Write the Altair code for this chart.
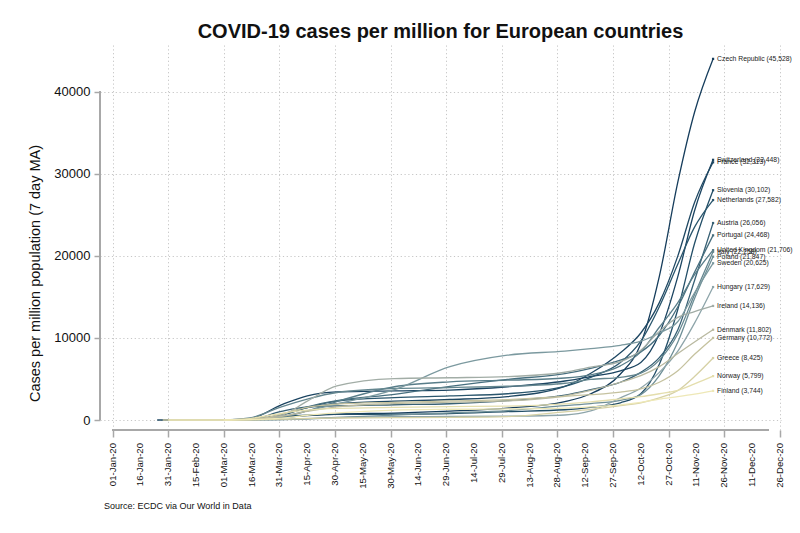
import json
import pandas as pd
import altair as alt

# ---- data -----------------------------------------------------------------
countries = [
    "Czech Republic", "Switzerland", "France", "Slovenia", "Netherlands",
    "Austria", "Portugal", "United Kingdom", "Italy", "Poland", "Sweden",
    "Hungary", "Ireland", "Denmark", "Germany", "Greece", "Norway", "Finland",
]

# latest reported cumulative cases per million (shown in the end labels)
latest_totals = [
    45528, 32448, 32313, 30102, 27582, 26056, 24468, 21706, 22258, 21847,
    20625, 17629, 14136, 11802, 10772, 8425, 5799, 3744,
]

# first reported case for countries with cases before March
first_case = {
    "France": "2020-01-25",
    "Germany": "2020-01-28",
    "Italy": "2020-01-31",
    "United Kingdom": "2020-01-31",
    "Sweden": "2020-02-01",
    "Finland": "2020-01-31",
}

dates = [
    "2020-03-01", "2020-03-15", "2020-04-01", "2020-04-15", "2020-05-01",
    "2020-06-01", "2020-07-01", "2020-08-01", "2020-09-01", "2020-09-15",
    "2020-10-01", "2020-10-12", "2020-10-22", "2020-11-01", "2020-11-10",
    "2020-11-20",
]

# cumulative cases per million, 7 day moving average
czech_republic = [0, 15, 290, 540, 700, 850, 1080, 1450, 2250, 3200, 5600, 9300, 17500, 29000, 37500, 44000]
switzerland = [2, 170, 1850, 2950, 3420, 3550, 3650, 4050, 4750, 5300, 6000, 7000, 10500, 17500, 25500, 31700]
france = [2, 55, 650, 1500, 2000, 2300, 2500, 2850, 4100, 5700, 8200, 10600, 14300, 20000, 26500, 31400]
slovenia = [0, 70, 410, 600, 680, 710, 780, 1030, 1250, 1550, 2100, 3200, 6800, 13500, 21500, 28000]
netherlands = [0, 40, 600, 1500, 2300, 2720, 2930, 3200, 4100, 5200, 7000, 9600, 13800, 19000, 23500, 26800]
austria = [0, 60, 1050, 1600, 1730, 1860, 1980, 2350, 3020, 3700, 4600, 5800, 7600, 11000, 17000, 24000]
portugal = [0, 10, 650, 1600, 2350, 3130, 4100, 4950, 5650, 6300, 7300, 8300, 10300, 13800, 18000, 22500]
united_kingdom = [0, 12, 300, 1100, 2250, 4050, 4650, 4850, 5120, 5500, 6600, 8300, 11300, 14300, 17700, 20700]
italy = [15, 250, 1600, 2550, 3350, 3840, 3960, 4110, 4480, 4950, 5200, 5700, 7300, 10500, 15300, 20500]
poland = [0, 3, 50, 170, 310, 600, 870, 1150, 1750, 2000, 2400, 3100, 5400, 9500, 14800, 19900]
sweden = [1, 80, 410, 1100, 1950, 3700, 6500, 7900, 8400, 8700, 9100, 9600, 10600, 12000, 15500, 19100]
hungary = [0, 3, 40, 120, 270, 400, 430, 470, 610, 1100, 2700, 3900, 5800, 8400, 11800, 16200]
ireland = [0, 15, 550, 2300, 4150, 5050, 5150, 5280, 5820, 6450, 7100, 8500, 10800, 12500, 13200, 13900]
denmark = [0, 130, 450, 1050, 1600, 2000, 2170, 2320, 2950, 3600, 4600, 5400, 6500, 8100, 9500, 11000]
germany = [1, 35, 720, 1550, 1940, 2160, 2320, 2480, 2880, 3080, 3400, 3800, 4600, 6000, 8000, 10000]
greece = [0, 20, 100, 210, 245, 280, 320, 420, 1000, 1300, 1750, 2100, 2700, 3600, 5300, 7550]
norway = [0, 180, 820, 1200, 1410, 1540, 1640, 1690, 1960, 2200, 2580, 2850, 3200, 3600, 4400, 5350]
finland = [0, 40, 230, 580, 870, 1210, 1310, 1350, 1450, 1600, 1840, 2150, 2550, 2850, 3150, 3550]

series = [
    czech_republic, switzerland, france, slovenia, netherlands, austria,
    portugal, united_kingdom, italy, poland, sweden, hungary, ireland,
    denmark, germany, greece, norway, finland,
]

tick_labels = [
    "01-Jan-20", "16-Jan-20", "31-Jan-20", "15-Feb-20", "01-Mar-20",
    "16-Mar-20", "31-Mar-20", "15-Apr-20", "30-Apr-20", "15-May-20",
    "30-May-20", "14-Jun-20", "29-Jun-20", "14-Jul-20", "29-Jul-20",
    "13-Aug-20", "28-Aug-20", "12-Sep-20", "27-Sep-20", "12-Oct-20",
    "27-Oct-20", "11-Nov-20", "26-Nov-20", "11-Dec-20", "26-Dec-20",
]
y_ticks = [0, 10000, 20000, 30000, 40000]

title_text = "COVID-19 cases per million for European countries"
y_title = "Cases per million population (7 day MA)"
source_text = "Source: ECDC via Our World in Data"

# ---- styling ----------------------------------------------------------------
palette = [
    "#163d5c", "#1b4461", "#1f4863", "#234f68", "#2a566d", "#386175",
    "#466e7e", "#587d89", "#64868f", "#6e8f97", "#7b999f", "#8ea5aa",
    "#a2ada6", "#b9b9a0", "#c5c29f", "#d6d1a5", "#e4dead", "#eee8b7",
]
font = "Liberation Sans, Arial, sans-serif"
axis_grey = "#a8a8a8"

# ---- tables -----------------------------------------------------------------
origin = pd.Timestamp("2020-01-01")


def day_of(d):
    return (pd.Timestamp(d) - origin).days


rows = []
for name, vals in zip(countries, series):
    if name in first_case:
        rows.append({"country": name, "day": day_of(first_case[name]), "cases": 0})
    for d, v in zip(dates, vals):
        rows.append({"country": name, "day": day_of(d), "cases": v})
df = pd.DataFrame(rows)

ends = pd.DataFrame({
    "country": countries,
    "day": [day_of(dates[-1])] * len(countries),
    "cases": [s[-1] for s in series],
    "label": [f"{c} ({t:,})" for c, t in zip(countries, latest_totals)],
})

ticks = pd.DataFrame({
    "label": tick_labels,
    "day": [(pd.to_datetime(t, format="%d-%b-%y") - origin).days for t in tick_labels],
})

x_scale = alt.Scale(domain=[-6.854, 360.66], nice=False, zero=False)
y_scale = alt.Scale(domain=[-1218, 45690], nice=False, zero=False)
color_scale = alt.Scale(domain=countries, range=palette)

x_axis = alt.Axis(
    values=ticks["day"].tolist(), labels=False, title=None,
    tickColor=axis_grey, tickWidth=1.5, tickSize=7, grid=True,
)
y_axis = alt.Axis(
    values=y_ticks, format="d", title=y_title, labelFont=font,
    labelFontSize=13, labelColor="#111", tickColor=axis_grey, tickWidth=1.5,
    tickSize=6, labelPadding=4, grid=True, titleFont=font,
    titleFontSize=14.5, titleFontWeight="normal", titleColor="#111",
    titleX=-65, titleY=228, titleAngle=270, titleBaseline="middle",
    titleAlign="center",
)

lines = alt.Chart(df).mark_line(interpolate="monotone", strokeWidth=1.3).encode(
    x=alt.X("day:Q", scale=x_scale, axis=x_axis),
    y=alt.Y("cases:Q", scale=y_scale, axis=y_axis),
    color=alt.Color("country:N", scale=color_scale, legend=None),
)

dots = alt.Chart(ends).mark_square(size=5, opacity=1).encode(
    x="day:Q", y="cases:Q",
    color=alt.Color("country:N", scale=color_scale, legend=None),
)

labels = alt.Chart(ends).mark_text(
    align="left", baseline="middle", dx=4, font=font, fontSize=6.8, color="#222",
).encode(x="day:Q", y="cases:Q", text="label:N")

# rotated date labels under the x ticks
x_labels = alt.Chart(ticks).mark_text(
    angle=270, align="right", baseline="middle", font=font, fontSize=9.6,
    color="#111",
).encode(x="day:Q", y=alt.value(398), text="label:N")

y_line = alt.Chart(ends).mark_rule(color=axis_grey, strokeWidth=1.5).encode(
    x=alt.value(0), y=alt.datum(0), y2=alt.datum(40000),
)
x_line = alt.Chart(ends).mark_rule(color=axis_grey, strokeWidth=1.5).encode(
    y=alt.value(385), x=alt.datum(0), x2=alt.datum(354),
)

source = alt.Chart(pd.DataFrame({"t": [source_text]})).mark_text(
    align="left", baseline="middle", font=font, fontSize=9, color="#111",
).encode(x=alt.value(4), y=alt.value(461), text="t:N")

chart = alt.layer(lines, dots, labels, x_labels, y_line, x_line, source).properties(
    width=681,
    height=385,
    padding={"left": 100, "top": 45, "right": 19, "bottom": 103},
    autosize=alt.AutoSizeParams(type="none"),
    background="white",
    title=alt.Title(
        title_text, font=font, fontSize=20, fontWeight="bold",
        color="#111", anchor="middle", frame="group", offset=3,
    ),
).configure_axis(
    domain=False, gridColor="#c6c6c6", gridDash=[1.2, 2.6], gridWidth=1,
).configure_view(stroke=None)

chart.save("out.html", embed_options={"renderer": "svg", "actions": False})
